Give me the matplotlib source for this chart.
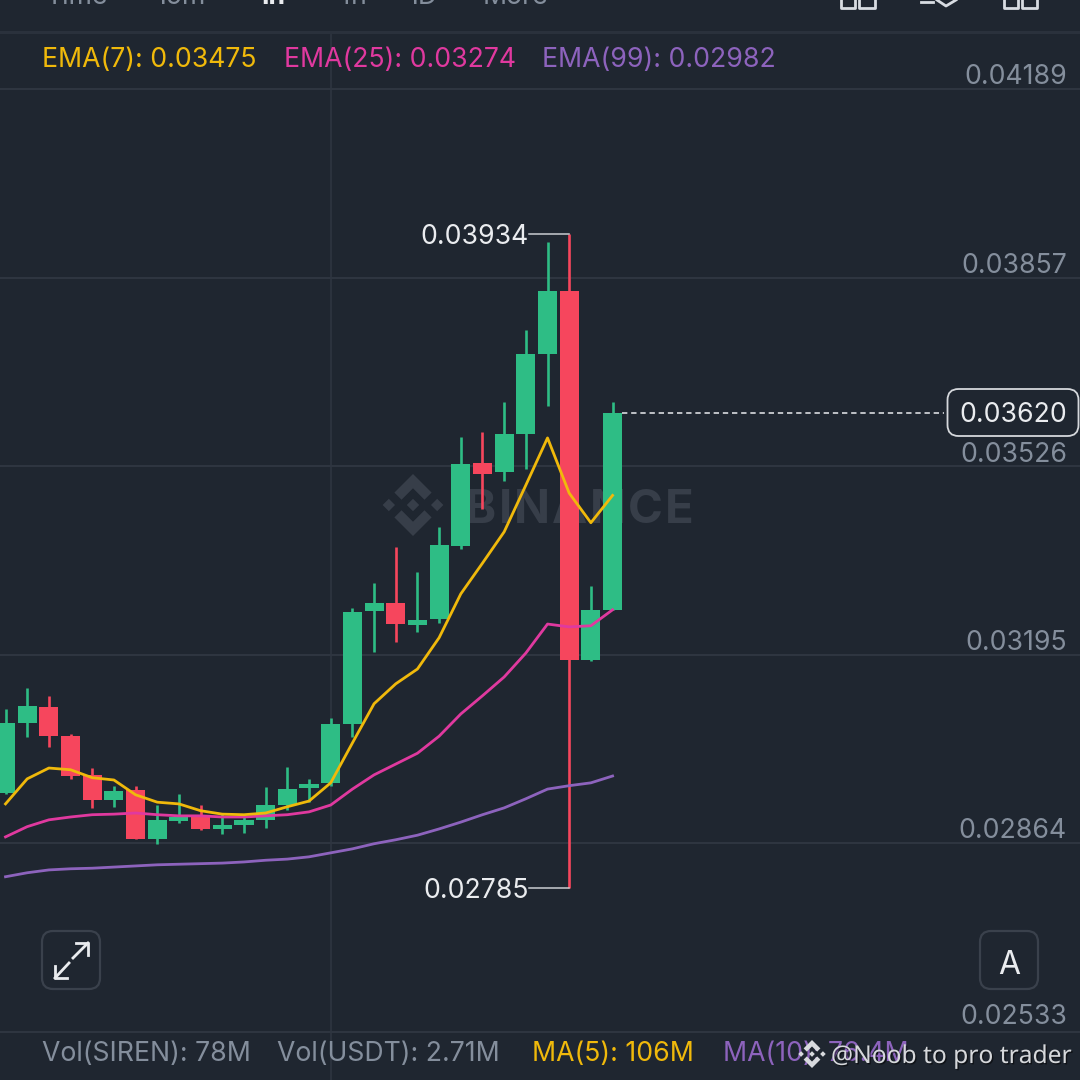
import matplotlib
matplotlib.use('Agg')
import matplotlib.pyplot as plt
import matplotlib.patheffects as pe
from matplotlib.patches import FancyBboxPatch, Polygon
from matplotlib.transforms import blended_transform_factory

plt.rcParams['font.family'] = ['Inter', 'DejaVu Sans']

BG = '#1f2630'
GRID = '#2e3540'
UP = '#2ebd85'
DOWN = '#f6465d'
GREY = '#848e9c'
WHITE = '#eaecef'
YELLOW = '#f0b90b'
PINK = '#e0399f'
PURPLE = '#8d63bd'
MARK = '#373e49'
FS = 19.2

price_ticks = [0.04189, 0.03857, 0.03526, 0.03195, 0.02864, 0.02533]

opens = [0.02952, 0.03075, 0.03103, 0.03052, 0.02984, 0.02940, 0.02957, 0.02871,
         0.02903, 0.02914, 0.02889, 0.02896, 0.02905, 0.02931, 0.02961, 0.02970,
         0.03073, 0.03272, 0.03286, 0.03247, 0.03258, 0.03386, 0.03532, 0.03516,
         0.03583, 0.03723, 0.03834, 0.03186, 0.03274]
closes = [0.03075, 0.03105, 0.03052, 0.02982, 0.02940, 0.02956, 0.02871, 0.02905,
          0.02910, 0.02889, 0.02896, 0.02905, 0.02931, 0.02959, 0.02968, 0.03073,
          0.03270, 0.03286, 0.03249, 0.03256, 0.03388, 0.03530, 0.03513, 0.03583,
          0.03723, 0.03834, 0.03186, 0.03274, 0.03620]
highs = [0.03100, 0.03137, 0.03123, 0.03056, 0.02996, 0.02965, 0.02965, 0.02931,
         0.02950, 0.02931, 0.02917, 0.02915, 0.02963, 0.02998, 0.02977, 0.03084,
         0.03277, 0.03321, 0.03384, 0.03340, 0.03420, 0.03578, 0.03586, 0.03639,
         0.03766, 0.03920, 0.03934, 0.03316, 0.03639]
lows = [0.02950, 0.03051, 0.03033, 0.02977, 0.02926, 0.02928, 0.02871, 0.02863,
        0.02900, 0.02887, 0.02880, 0.02882, 0.02891, 0.02922, 0.02936, 0.02965,
        0.03051, 0.03200, 0.03218, 0.03235, 0.03251, 0.03381, 0.03451, 0.03500,
        0.03521, 0.03632, 0.02785, 0.03184, 0.03274]

ema7 = [0.02933, 0.02977, 0.02996, 0.02993, 0.02979, 0.02975, 0.02949, 0.02936,
        0.02933, 0.02921, 0.02915, 0.02914, 0.02917, 0.02928, 0.02938, 0.02970,
        0.03040, 0.03109, 0.03144, 0.03170, 0.03225, 0.03302, 0.03356, 0.03411,
        0.03493, 0.03576, 0.03479, 0.03427, 0.03475]
ema25 = [0.02875, 0.02893, 0.02905, 0.02910, 0.02914, 0.02915, 0.02917, 0.02914,
         0.02912, 0.02912, 0.02910, 0.02910, 0.02912, 0.02914, 0.02919, 0.02931,
         0.02959, 0.02984, 0.03003, 0.03022, 0.03052, 0.03091, 0.03123, 0.03156,
         0.03198, 0.03249, 0.03244, 0.03246, 0.03274]
ema99 = [0.02805, 0.02812, 0.02817, 0.02819, 0.02820, 0.02822, 0.02824, 0.02826,
         0.02827, 0.02828, 0.02829, 0.02831, 0.02834, 0.02836, 0.02840, 0.02847,
         0.02854, 0.02863, 0.02870, 0.02878, 0.02889, 0.02901, 0.02914, 0.02926,
         0.02942, 0.02959, 0.02965, 0.02970, 0.02982]

last_price = '0.03620'
high_label = '0.03934'
low_label = '0.02785'
tabs = ['Time', '15m', '1h', '4h', '1D', 'More']
ema_labels = ['EMA(7): 0.03475', 'EMA(25): 0.03274', 'EMA(99): 0.02982']
vol_labels = ['Vol(SIREN): 78M', 'Vol(USDT): 2.71M', 'MA(5): 106M', 'MA(10): 76.4M']


def draw_logo(ax, trans, cx, cy, r, color, zorder):
    # five pieces of the exchange mark, unit radius
    d = 0.2
    for ox, oy in [(0, 0), (-0.78, 0), (0.78, 0)]:
        pts = [(ox, oy - d), (ox + d, oy), (ox, oy + d), (ox - d, oy)]
        ax.add_patch(Polygon([(cx + x * r, cy + y * r) for x, y in pts],
                             fc=color, ec='none', zorder=zorder, transform=trans))
    chevron = [(0, -1), (0.6, -0.4), (0.37, -0.17), (0, -0.54), (-0.37, -0.17), (-0.6, -0.4)]
    for sign in (1, -1):
        ax.add_patch(Polygon([(cx + x * r, cy + sign * y * r) for x, y in chevron],
                             fc=color, ec='none', zorder=zorder, transform=trans))


fig = plt.figure(figsize=(10.8, 10.8), dpi=100, facecolor=BG)

# chart axes, covers the whole canvas
ax = fig.add_axes([0, 0, 1, 1], facecolor=BG)
ax.set_xlim(-0.254, 49.56)
ax.set_ylim(0.024479, 0.043454)
ax.axis('off')

# pixel overlay for the app chrome
ui = fig.add_axes([0, 0, 1, 1], facecolor='none')
ui.set_xlim(0, 1080)
ui.set_ylim(1080, 0)
ui.axis('off')

for tick in price_ticks:
    ax.axhline(tick, color=GRID, lw=1.5, zorder=1)
ax.plot([15, 15], [0.024479, 0.04289], color=GRID, lw=1.2, zorder=1)
ui.plot([0, 1080], [32, 32], color='#2a313c', lw=2.2, zorder=1)

# watermark sits under the candles, letters spaced out by hand
draw_logo(ax, ui.transData, 413, 505, 31, MARK, 2)
renderer = fig.canvas.get_renderer()
pen = 465
for letter in 'BINANCE':
    t = ax.text(pen, 523, letter, color=MARK, fontsize=34, fontweight='bold',
                va='baseline', ha='left', zorder=2, transform=ui.transData)
    pen += t.get_window_extent(renderer).width + 2.2

# candles
xs = list(range(len(opens)))
up_flags = [c >= o for o, c in zip(opens, closes)]
colors = [UP if u else DOWN for u in up_flags]
ax.vlines(xs, lows, highs, colors=colors, lw=1.9, zorder=3)
ax.bar(xs, [abs(c - o) for o, c in zip(opens, closes)],
       bottom=[min(o, c) for o, c in zip(opens, closes)],
       width=0.88, color=colors, zorder=3)

ax.plot(xs, ema99, color=PURPLE, lw=2, zorder=4)
ax.plot(xs, ema25, color=PINK, lw=2, zorder=4)
ax.plot(xs, ema7, color=YELLOW, lw=2, zorder=5)

# high / low markers on the tallest candle
hi_i = highs.index(max(highs))
lo_i = lows.index(min(lows))
for i, val, lab in [(hi_i, highs[hi_i], high_label), (lo_i, lows[lo_i], low_label)]:
    ax.plot([i - 1.85, i], [val, val], color='#c9ccd1', lw=1.1, zorder=4)
    ax.text(i - 1.85, val, lab, color=WHITE, fontsize=FS, ha='right', va='center_baseline', zorder=6)

# right price scale
blend = blended_transform_factory(ui.transData, ax.transData)
for tick in price_ticks:
    dy = 5.5 if tick == price_ticks[-1] else 3.5
    ax.annotate(f'{tick:.5f}', xy=(1067, tick), xycoords=blend, xytext=(0, dy),
                textcoords='offset points', color=GREY, fontsize=FS, ha='right', va='baseline')

# last price tag
last_val = closes[-1]
ax.plot([28.45, 43.3], [last_val, last_val], color=WHITE, lw=1.1, ls=(0, (3.5, 2.5)), zorder=4)
ui.add_patch(FancyBboxPatch((947.5, 389), 131, 47, boxstyle='round,pad=0,rounding_size=11',
                            fc=BG, ec='#d5d8dc', lw=1.3, zorder=6))
ui.text(1013, 422, last_price, color=WHITE, fontsize=FS, ha='center', va='baseline', zorder=7)

# top tabs, cut off by the canvas edge
tab_x = [46, 156, 258, 335, 408, 483]
for x, lab in zip(tab_x, tabs):
    active = lab == '1h'
    ui.text(x, 4, lab, color=WHITE if active else GREY, fontsize=FS, ha='left', va='baseline',
            fontweight='bold' if active else 'normal')

# top right icons, only their bottom edge is visible
ICON = '#d8dce2'
for left, right in [(841, 855), (859, 875), (1004, 1018), (1022, 1037)]:
    ui.plot([left, left, right, right], [0, 8, 8, 0], color=ICON, lw=2)
ui.plot([921, 933], [2, 2], color=ICON, lw=2)
ui.plot([937, 946, 956], [0, 6, 0], color=ICON, lw=2)

# legend rows
for x, lab, col in zip([42, 284, 542], ema_labels, [YELLOW, PINK, PURPLE]):
    ui.text(x, 67, lab, color=col, fontsize=FS, ha='left', va='baseline')
for x, lab, col in zip([42, 277, 532, 723], vol_labels, [GREY, GREY, YELLOW, PURPLE]):
    ui.text(x, 1061, lab, color=col, fontsize=FS, ha='left', va='baseline', zorder=3)

# floating buttons
for x in (42, 980):
    ui.add_patch(FancyBboxPatch((x, 931), 58, 58, boxstyle='round,pad=0,rounding_size=11',
                                fc='none', ec='#3a414c', lw=1.6, zorder=3))
ui.text(1009, 962, 'A', color=WHITE, fontsize=23, ha='center', va='center_baseline')
ui.plot([73, 88], [958, 943], color=WHITE, lw=2)
ui.plot([76, 88, 88], [943, 943, 955], color=WHITE, lw=2)
ui.plot([55, 69], [978, 963], color=WHITE, lw=2)
ui.plot([55, 55, 67], [966, 978, 978], color=WHITE, lw=2)

# square post watermark, bottom right
draw_logo(ui, ui.transData, 812, 1054, 14, '#d8dade', 8)
shadow = [pe.withSimplePatchShadow(offset=(1, -1), shadow_rgbFace='k', alpha=0.5)]
ui.text(831, 1063, '@Noob to pro trader', color='#d6d8db', fontsize=17.7, family='Noto Sans',
        ha='left', va='baseline', zorder=8, path_effects=shadow)

fig.savefig('out.png', dpi=100, facecolor=BG)
plt.close()
